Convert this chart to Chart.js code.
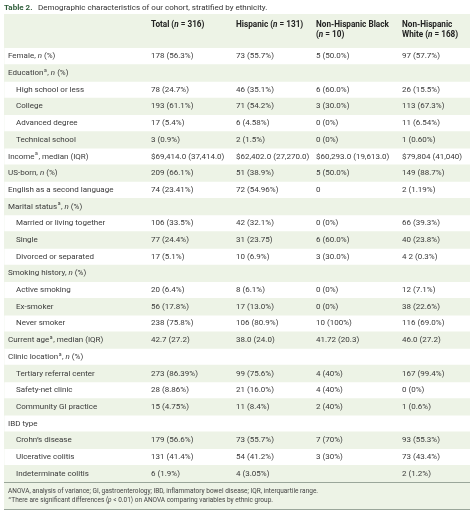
<!DOCTYPE html>
<html>
<head>
<meta charset="utf-8">
<script src="https://cdn.jsdelivr.net/npm/chart.js@4"></script>
<style>
  body { margin: 0; background: #fff; }
  #wrap { width: 474px; height: 514px; position: relative; }
</style>
</head>
<body>
<div id="wrap"><canvas id="tableChart"></canvas></div>
<script>
// Isi tabel (teks di antara _ ditulis miring, ^a = superskrip)
const rowLabels = [
  "Female, _n_ (%)", "Education^a, _n_ (%)", "High school or less", "College", "Advanced degree",
  "Technical school", "Income^a, median (IQR)", "US-born, _n_ (%)", "English as a second language",
  "Marital status^a, _n_ (%)", "Married or living together", "Single", "Divorced or separated",
  "Smoking history, _n_ (%)", "Active smoking", "Ex-smoker", "Never smoker",
  "Current age^a, median (IQR)", "Clinic location^a, _n_ (%)", "Tertiary referral center",
  "Safety-net clinic", "Community GI practice", "IBD type", "Crohn’s disease",
  "Ulcerative colitis", "Indeterminate colitis"
];
const indented = [0,0,1,1,1,1,0,0,0,0,1,1,1,0,1,1,1,0,0,1,1,1,0,1,1,1];
const totalCol = ["178 (56.3%)", "", "78 (24.7%)", "193 (61.1%)", "17 (5.4%)", "3 (0.9%)",
  "$69,414.0 (37,414.0)", "209 (66.1%)", "74 (23.41%)", "", "106 (33.5%)", "77 (24.4%)", "17 (5.1%)",
  "", "20 (6.4%)", "56 (17.8%)", "238 (75.8%)", "42.7 (27.2)", "", "273 (86.39%)", "28 (8.86%)",
  "15 (4.75%)", "", "179 (56.6%)", "131 (41.4%)", "6 (1.9%)"];
const hispanicCol = ["73 (55.7%)", "", "46 (35.1%)", "71 (54.2%)", "6 (4.58%)", "2 (1.5%)",
  "$62,402.0 (27,270.0)", "51 (38.9%)", "72 (54.96%)", "", "42 (32.1%)", "31 (23.75)", "10 (6.9%)",
  "", "8 (6.1%)", "17 (13.0%)", "106 (80.9%)", "38.0 (24.0)", "", "99 (75.6%)", "21 (16.0%)",
  "11 (8.4%)", "", "73 (55.7%)", "54 (41.2%)", "4 (3.05%)"];
const blackCol = ["5 (50.0%)", "", "6 (60.0%)", "3 (30.0%)", "0 (0%)", "0 (0%)",
  "$60,293.0 (19,613.0)", "5 (50.0%)", "0", "", "0 (0%)", "6 (60.0%)", "3 (30.0%)",
  "", "0 (0%)", "0 (0%)", "10 (100%)", "41.72 (20.3)", "", "4 (40%)", "4 (40%)",
  "2 (40%)", "", "7 (70%)", "3 (30%)", ""];
const whiteCol = ["97 (57.7%)", "", "26 (15.5%)", "113 (67.3%)", "11 (6.54%)", "1 (0.60%)",
  "$79,804 (41,040)", "149 (88.7%)", "2 (1.19%)", "", "66 (39.3%)", "40 (23.8%)", "4 2 (0.3%)",
  "", "12 (7.1%)", "38 (22.6%)", "116 (69.0%)", "46.0 (27.2)", "", "167 (99.4%)", "0 (0%)",
  "1 (0.6%)", "", "93 (55.3%)", "73 (43.4%)", "2 (1.2%)"];
const headers = [["Total (_n_ = 316)"], ["Hispanic (_n_ = 131)"],
  ["Non-Hispanic Black", "(_n_ = 10)"], ["Non-Hispanic", "White (_n_ = 168)"]];
const bandFlag = rowLabels.map((_, i) => (i % 2 === 1 ? 1 : 0));

const FONT = "Roboto, 'Noto Sans', sans-serif";
const GREEN = "#edf3e6";
const colX = [8, 151, 236, 316, 402];

// Tulis teks dengan bagian miring dan superskrip
function drawRich(ctx, text, x, y, bold, size) {
  size = size || 8;
  const w = bold ? "bold " : "";
  const parts = text.split(/(_[^_]+_|\^a)/);
  parts.forEach((p) => {
    if (!p) return;
    if (p === "^a") {
      ctx.font = w + (size * 0.65) + "px " + FONT;
      ctx.fillText("a", x + 0.5, y - 2.5);
      x += ctx.measureText("a").width + 1;
      return;
    }
    const italic = p.startsWith("_");
    const t = italic ? p.slice(1, -1) : p;
    ctx.font = (italic ? "italic " : "") + w + size + "px " + FONT;
    ctx.fillText(t, x, y);
    x += ctx.measureText(t).width;
  });
}

const tablePlugin = {
  id: "tablePlugin",
  afterDraw(chart) {
    const ctx = chart.ctx;
    const yScale = chart.scales.y;
    const area = chart.chartArea;
    ctx.save();
    ctx.textBaseline = "middle";

    // judul
    ctx.fillStyle = "#2f5d3a";
    ctx.font = "bold 8px " + FONT;
    ctx.fillText("Table 2.", 4, 8);
    ctx.fillStyle = "#333";
    ctx.font = "8px " + FONT;
    ctx.fillText("Demographic characteristics of our cohort, stratified by ethnicity.", 38, 8);

    // header
    ctx.fillStyle = GREEN;
    ctx.fillRect(4, 14, 466, area.top - 14);
    ctx.fillStyle = "#222";
    headers.forEach((h, c) => {
      h.forEach((line, k) => {
        const yy = h.length === 1 ? 25 : 25 + k * 9.5;
        drawRich(ctx, line, colX[c + 1], yy, true, 8.2);
      });
    });

    // isi baris
    ctx.fillStyle = "#3a3a3a";
    rowLabels.forEach((label, i) => {
      const y = yScale.getPixelForValue(i);
      drawRich(ctx, label, colX[0] + (indented[i] ? 8 : 0), y, false);
      [totalCol, hispanicCol, blackCol, whiteCol].forEach((col, c) => {
        drawRich(ctx, col[i], colX[c + 1], y, false);
      });
    });

    // catatan kaki
    ctx.strokeStyle = "#9aa69a";
    ctx.lineWidth = 1;
    ctx.beginPath();
    ctx.moveTo(4, area.bottom + 0.5);
    ctx.lineTo(470, area.bottom + 0.5);
    ctx.stroke();
    ctx.fillStyle = GREEN;
    ctx.fillRect(4, area.bottom + 1, 466, 26);
    ctx.beginPath();
    ctx.moveTo(4, area.bottom + 27.5);
    ctx.lineTo(470, area.bottom + 27.5);
    ctx.stroke();
    ctx.fillStyle = "#444";
    drawRich(ctx, "ANOVA, analysis of variance; GI, gastroenterology; IBD, inflammatory bowel disease; IQR, interquartile range.", 8, area.bottom + 9, false, 6.5);
    drawRich(ctx, "^aThere are significant differences (_p_ < 0.01) on ANOVA comparing variables by ethnic group.", 8, area.bottom + 18, false, 6.5);
    ctx.restore();
  },
};

window.onload = () => {
  const ctx = document.getElementById("tableChart").getContext("2d");
  new Chart(ctx, {
    type: "bar",
    data: {
      labels: rowLabels,
      datasets: [{
        data: bandFlag,
        backgroundColor: GREEN,
        borderWidth: 0,
        barPercentage: 1,
        categoryPercentage: 1,
      }],
    },
    options: {
      indexAxis: "y",
      responsive: true,
      maintainAspectRatio: false,
      animation: false,
      layout: { padding: { top: 48, bottom: 32, left: 4, right: 4 } },
      plugins: { legend: { display: false }, tooltip: { enabled: false } },
      scales: {
        x: { display: false, min: 0, max: 1 },
        y: { display: false },
      },
    },
    plugins: [tablePlugin],
  });
};
</script>
</body>
</html>
